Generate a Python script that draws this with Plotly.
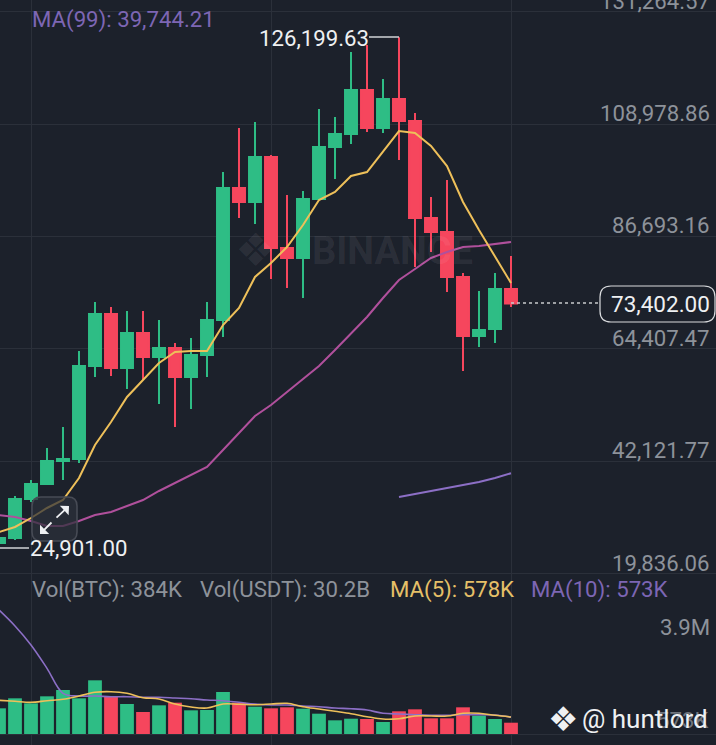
import plotly.graph_objects as go
from plotly.subplots import make_subplots

W, H = 716, 745
BG = "#1c212b"
GREEN = "#2ebd85"
RED = "#f6465d"
GRID = "#2b303a"
LABEL = "#8d929a"
WHITE = "#eef0f2"
WATERMARK = "rgba(255,255,255,0.07)"
FONT = "Roboto"
SIZE = 22.2

opens = [25907, 26893, 34627, 37601, 42160, 42556, 60997, 71307, 60600, 67540, 62784,
         64564, 58817, 63178, 70118, 96289, 93513, 102436, 84393, 82410, 94108, 104418,
         106996, 115720, 108186, 113935, 109573, 90342, 87565, 78643, 66947, 68333, 76264]
highs = [26893, 35222, 38394, 44723, 48901, 63972, 73688, 72697, 71900, 71900, 70118,
         65559, 66551, 73688, 99462, 108186, 109375, 102832, 94901, 95694, 111953, 110367,
         123254, 124642, 117901, 126199.63, 111160, 94505, 97875, 79438, 75867, 79438, 82807]
lows = [24901, 26498, 34033, 37601, 38394, 41763, 58817, 59015, 56437, 58221, 53463,
        48901, 52473, 58817, 66749, 90342, 89154, 78247, 76462, 74479, 94108, 98073,
        105013, 107392, 107194, 101841, 80626, 83600, 75669, 60005, 64766, 65559, 72697]
closes = [26893, 34627, 37601, 42160, 42556, 60997, 71307, 60600, 67540, 62784, 64564,
          58817, 63178, 70118, 96289, 93513, 102436, 84393, 82410, 94108, 104418, 106996,
          115720, 108186, 113935, 109573, 90342, 87565, 78643, 66947, 68135, 76264, 73402]
ma7 = [28084, 29078, 30860, 32845, 34429, 38791, 45334, 49896, 54853, 58221, 61592,
       63773, 63972, 63972, 69126, 72497, 78643, 81423, 84591, 88953, 93910, 95496,
       98668, 99462, 103427, 107589, 107194, 104617, 100649, 93513, 87962, 82609, 77455]
ma25 = [31454, 31060, 30263, 29274, 29274, 30263, 31454, 32050, 33240, 34429, 36213,
        37800, 39386, 40976, 44342, 47715, 51084, 53265, 55844, 58420, 60997, 64172,
        67540, 70714, 74479, 78048, 80231, 82410, 83600, 84591, 84790, 85190, 85583]
ma99_index = [25, 26, 27, 28, 29, 30, 31, 32]
ma99 = [35024, 35618, 36213, 36808, 37403, 37998, 38791, 39744]

# volume in thousands
volume = [873, 1213, 1042, 1281, 1496, 1213, 1825, 1270, 1020, 748, 975, 1065, 805, 816,
          1428, 1065, 929, 873, 907, 861, 691, 465, 521, 510, 408, 771, 839, 533, 533, 907,
          623, 510, 384]
vol_ma5 = [1145, 1111, 1077, 1133, 1179, 1292, 1417, 1439, 1383, 1235, 1190, 1020, 918, 884,
           1020, 1009, 997, 1020, 1043, 929, 850, 771, 691, 589, 510, 521, 612, 612, 612,
           703, 703, 635, 578]
vol_ma10 = [4216, 3672, 3026, 2233, 1383, 1292, 1292, 1269, 1269, 1247, 1247, 1224, 1201,
            1156, 1133, 1077, 1020, 986, 986, 952, 929, 884, 861, 816, 703, 680, 657, 635,
            635, 657, 657, 646, 573]

price_ticks = [131264.57, 108978.86, 86693.16, 64407.47, 42121.77, 19836.06]
price_tick_labels = ["131,264.57", "108,978.86", "86,693.16", "64,407.47", "42,121.77", "19,836.06"]
vertical_grid = [2, 17, 32]
index = list(range(len(closes)))
vol_colors = [GREEN if c >= o else RED for o, c in zip(opens, closes)]


def px(x):
    return x / W


def py(y):
    return 1 - y / H


fig = make_subplots(rows=2, cols=1, shared_xaxes=True, vertical_spacing=0,
                    row_heights=[590 / H, 155 / H])

fig.add_trace(go.Candlestick(
    x=index, open=opens, high=highs, low=lows, close=closes, whiskerwidth=0,
    increasing=dict(line=dict(color=GREEN, width=2), fillcolor=GREEN),
    decreasing=dict(line=dict(color=RED, width=2), fillcolor=RED),
    showlegend=False), row=1, col=1)
fig.add_trace(go.Scatter(x=index, y=ma25, mode="lines", line=dict(color="#b0509c", width=2),
                         showlegend=False), row=1, col=1)
fig.add_trace(go.Scatter(x=index, y=ma7, mode="lines", line=dict(color="#eec05a", width=2),
                         showlegend=False), row=1, col=1)
fig.add_trace(go.Scatter(x=ma99_index, y=ma99, mode="lines", line=dict(color="#8c6fc6", width=2),
                         showlegend=False), row=1, col=1)

fig.add_trace(go.Bar(x=index, y=volume, marker=dict(color=vol_colors, line=dict(width=0)),
                     width=0.86, showlegend=False), row=2, col=1)
fig.add_trace(go.Scatter(x=index, y=vol_ma10, mode="lines",
                         line=dict(color="#8c6fc6", width=1.6, shape="spline"),
                         showlegend=False), row=2, col=1)
fig.add_trace(go.Scatter(x=index, y=vol_ma5, mode="lines",
                         line=dict(color="#eec05a", width=1.6, shape="spline"),
                         showlegend=False), row=2, col=1)

xrange = [1 / 16, 717 / 16]
for r in (1, 2):
    fig.update_xaxes(range=xrange, tickmode="array", tickvals=vertical_grid, showticklabels=False,
                     showgrid=True, gridcolor=GRID, gridwidth=1, zeroline=False, ticks="",
                     rangeslider_visible=False, showline=False, row=r, col=1)
fig.update_yaxes(range=[16585, 133564], tickmode="array", tickvals=price_ticks, showticklabels=False,
                 showgrid=True, gridcolor=GRID, gridwidth=1, zeroline=False, ticks="", row=1, col=1)
fig.update_yaxes(range=[-374, 4896], tickmode="array", tickvals=[0], showticklabels=False,
                 showgrid=True, gridcolor=GRID, gridwidth=1, zeroline=False, ticks="", row=2, col=1)
fig.update_layout(xaxis=dict(domain=[0, 1]), xaxis2=dict(domain=[0, 1]),
                  yaxis=dict(domain=[155 / H, 1]), yaxis2=dict(domain=[0, 155 / H]))


def text(s, x, y, color=LABEL, size=SIZE, anchor="left", family=FONT):
    fig.add_annotation(text=s, x=px(x), y=py(y), xref="paper", yref="paper", xanchor=anchor,
                       yanchor="middle", showarrow=False, borderwidth=0, borderpad=0,
                       font=dict(color=color, size=size, family=family))


# watermarks first so the readable text sits over them
text("<b>BINANCE</b>", 392, 251, WATERMARK, size=38, anchor="center")
text("❖", 255, 250, WATERMARK, size=46, anchor="center", family="DejaVu Sans")

# axis labels sit just above their gridlines
for value, label in zip(price_ticks, price_tick_labels):
    fig.add_annotation(text=label, x=px(710), y=value, xref="paper", yref="y", xanchor="right",
                       yanchor="middle", yshift=11, showarrow=False, borderwidth=0, borderpad=0,
                       font=dict(color=LABEL, size=SIZE, family=FONT))

text("MA(99): 39,744.21", 32, 20, "#7d66b4")
text("126,199.63", 369, 38, WHITE, anchor="right")
text("24,901.00", 30, 548, WHITE)
text("Vol(BTC): 384K", 32, 589)
text("Vol(USDT): 30.2B", 200, 589)
text("MA(5): 578K", 390, 589, "#e6c068")
text("MA(10): 573K", 531, 589, "#7d66b4")
text("3.9M", 710, 627, anchor="right")
text("573K", 708, 720, "#6f747c", anchor="right")
text("❖", 563, 719, WHITE, size=34, anchor="center", family="DejaVu Sans")
text("@ huntlord", 708, 719, WHITE, size=26, anchor="right")
text("73,402.00", 660, 304, WHITE, size=22.5, anchor="center")


def paper_line(x0, y0, x1, y1, color, width=1.3, dash="solid"):
    fig.add_shape(type="line", xref="paper", yref="paper", x0=px(x0), x1=px(x1), y0=py(y0), y1=py(y1),
                  line=dict(color=color, width=width, dash=dash))


paper_line(369, 37, 399, 37, WHITE)
paper_line(0, 548, 29, 548, WHITE)
paper_line(511, 303, 600, 303, "#c8cacd", 1.3, "3px,3px")


def rounded(x0, y0, x1, y1, r):
    a, b, c, d = px(x0), px(x1), py(y0), py(y1)
    rx, ry = r / W, r / H
    return (f"M{a + rx},{c} L{b - rx},{c} Q{b},{c} {b},{c - ry} L{b},{d + ry} Q{b},{d} {b - rx},{d} "
            f"L{a + rx},{d} Q{a},{d} {a},{d + ry} L{a},{c - ry} Q{a},{c} {a + rx},{c} Z")


fig.add_shape(type="path", xref="paper", yref="paper", path=rounded(600, 286, 715, 322, 11),
              fillcolor=BG, line=dict(color="#d9dbde", width=1.2))
fig.add_shape(type="path", xref="paper", yref="paper", path=rounded(32, 497, 77, 541, 9),
              fillcolor="rgba(44,48,58,0.72)", line=dict(color="#474b55", width=1.6))

# expand button arrows
fig.add_annotation(x=px(69), y=py(506), ax=-14, ay=13, xref="paper", yref="paper",
                   axref="pixel", ayref="pixel", text="", showarrow=True, arrowhead=1,
                   arrowcolor=WHITE, arrowwidth=1.8, arrowsize=1.2)
fig.add_annotation(x=px(40), y=py(534), ax=13, ay=-13, xref="paper", yref="paper",
                   axref="pixel", ayref="pixel", text="", showarrow=True, arrowhead=1,
                   arrowcolor=WHITE, arrowwidth=1.8, arrowsize=1.2)

fig.update_layout(width=W, height=H, margin=dict(l=0, r=0, t=0, b=0), paper_bgcolor=BG,
                  plot_bgcolor=BG, hovermode=False, showlegend=False, boxgap=0.1, boxgroupgap=0.17,
                  font=dict(family=FONT))

fig.write_html("out.html", config=dict(displayModeBar=False),
               post_script="document.body.style.margin='0';document.body.style.background='%s';"
                           "document.documentElement.style.overflow='hidden';" % BG)
